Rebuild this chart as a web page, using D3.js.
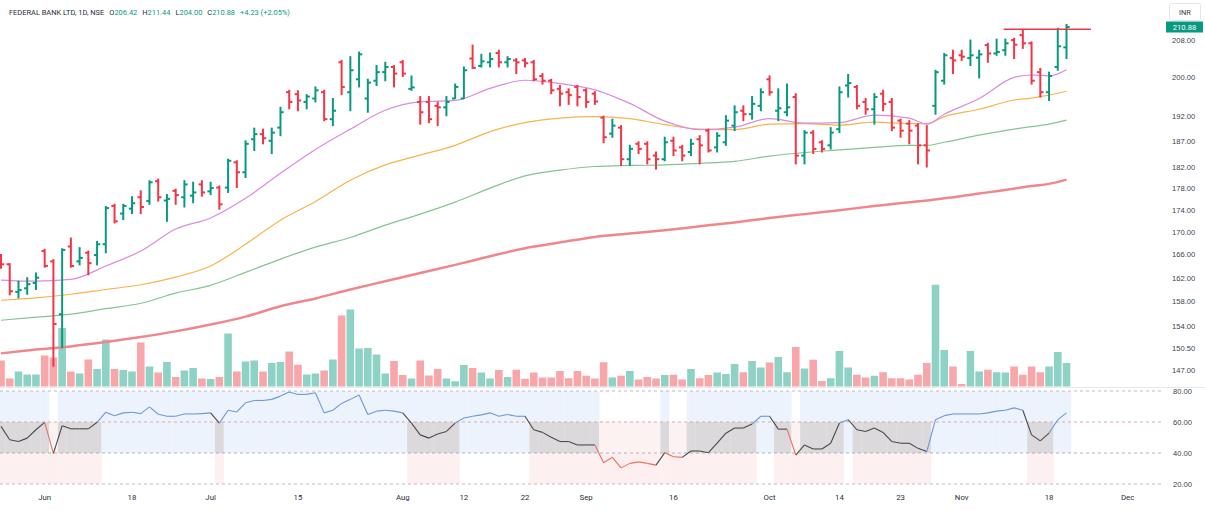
<!DOCTYPE html>
<html>
<head>
<meta charset="utf-8">
<script src="https://cdn.jsdelivr.net/npm/d3@7"></script>
<style>
  body{margin:0;background:#fff;overflow:hidden;}
  svg{display:block;font-family:Roboto, "Liberation Sans", sans-serif;}
</style>
</head>
<body>
<div class="chart"></div>
<script>
// daily bars, 27 May -> 21 Nov 2024 (trading days)
var opens = [165.5,164.3,159.6,160.2,161.1,166.6,164.8,155.9,167.4,164.8,
  166.3,165.9,167.8,174.7,173.3,174.2,176.3,175.6,179.3,175.7,
  177.5,176.3,176.6,178.7,177.4,178.1,178.1,182.9,181.0,187.4,
  188.4,187.1,189.7,196.9,196.5,194.9,195.6,196.9,191.4,203.2,
  196.9,199.6,195.6,199.3,201.1,202.2,203.2,197.6,194.9,194.9,
  194.1,193.8,195.6,195.6,204.0,202.4,203.2,205.2,203.2,203.6,
  203.6,203.2,200.3,199.3,197.6,196.9,198.0,197.3,196.6,191.7,
  188.5,189.7,183.5,186.5,186.5,184.2,183.5,187.1,185.8,184.9,
  187.4,189.1,185.8,186.8,190.1,193.1,192.4,194.1,199.6,193.1,
  192.8,195.9,184.2,188.7,186.8,186.2,189.4,198.3,198.0,194.9,
  193.4,196.6,194.9,191.1,190.5,190.1,186.2,194.1,199.3,204.1,
  204.7,204.1,204.2,206.9,205.1,205.8,208.0,209.1,207.3,201.1,
  196.9,202.2,206.42];
var highs = [166.0,164.4,161.4,162.0,162.8,166.9,165.1,167.0,168.9,167.2,
  166.6,168.3,174.6,175.0,175.0,176.4,177.5,179.4,179.7,176.8,
  177.8,179.4,179.1,179.4,179.1,178.4,183.5,183.2,187.1,189.6,
  189.4,189.6,193.8,197.3,197.2,196.4,198.0,197.3,195.6,203.6,
  204.4,205.4,199.6,202.5,203.2,202.5,203.6,200.3,196.0,196.0,
  194.9,196.0,198.6,202.2,206.9,204.9,205.2,205.8,204.4,204.0,
  204.0,203.6,200.8,199.6,198.3,197.6,198.3,197.6,197.0,192.0,
  191.4,190.1,186.2,186.9,186.9,184.9,187.8,187.8,186.2,187.4,
  188.1,189.4,188.7,192.1,194.1,194.1,196.0,197.6,200.3,197.6,
  198.6,196.6,189.1,189.1,187.1,189.7,198.0,200.6,198.3,195.6,
  196.6,197.3,195.6,191.4,191.1,190.5,190.1,201.5,205.1,205.8,
  205.8,208.0,205.8,207.3,208.2,208.2,208.4,210.2,207.6,201.9,
  201.1,210.6,211.44];
var lows = [163.6,159.1,158.6,159.2,160.0,163.8,147.6,150.5,163.8,164.2,
  162.5,164.2,166.3,171.6,172.2,173.3,173.3,175.0,175.6,171.9,
  175.0,174.5,175.3,176.5,176.8,174.1,177.2,178.1,180.0,185.2,
  186.5,184.6,188.1,193.5,193.1,193.5,194.9,191.1,190.1,196.4,
  193.1,198.0,192.8,198.3,199.3,198.0,200.2,197.3,190.4,190.7,
  190.1,192.1,195.6,195.6,201.9,202.2,202.2,202.2,202.2,200.8,
  202.2,199.3,198.6,196.6,194.1,194.4,194.1,193.8,194.4,186.7,
  187.8,182.3,182.3,184.6,182.6,181.6,183.2,184.2,183.2,184.2,
  182.6,184.9,184.9,186.2,189.1,191.1,191.4,193.1,196.3,191.1,
  192.1,182.6,182.6,184.6,184.9,185.5,188.7,195.9,193.5,192.4,
  190.4,193.1,189.1,187.8,186.5,182.6,182.0,192.4,198.6,200.8,
  203.6,202.5,199.9,203.2,204.7,204.7,204.0,206.2,198.6,195.9,
  195.2,201.5,204.00];
var closes = [164.3,159.7,159.9,160.9,162.0,164.0,154.3,166.8,164.0,165.4,
  164.5,167.8,174.3,171.9,174.7,175.2,174.5,179.1,176.3,176.0,
  176.7,178.7,177.2,177.2,178.0,175.0,183.2,181.0,186.5,188.4,
  187.6,188.7,192.8,194.9,195.2,196.0,197.3,191.4,193.1,198.0,
  201.5,204.9,198.9,201.1,202.2,200.8,200.8,197.9,192.8,191.4,
  193.8,194.9,198.0,201.5,202.0,203.4,203.9,203.2,203.9,203.2,
  203.0,199.6,199.3,197.3,196.6,196.3,195.9,194.9,195.0,187.8,
  190.1,183.5,185.5,185.5,183.5,183.5,186.8,185.2,184.2,186.5,
  186.2,185.2,188.1,191.1,192.8,192.4,194.5,196.9,196.9,193.6,
  193.8,184.2,188.7,185.5,185.5,188.7,196.9,198.8,194.1,193.4,
  195.9,194.5,189.7,189.1,189.1,186.2,185.2,201.1,204.7,203.6,
  204.4,204.7,204.9,205.1,205.4,207.3,207.0,207.3,199.3,196.9,
  200.3,206.65,210.88];
// volume, millions of shares
var volumes = [10.4,3.2,6.0,4.8,4.8,12.4,11.6,23.4,6.0,5.2,
  10.8,7.0,18.8,7.0,6.6,6.0,17.6,8.0,5.6,9.8,
  3.8,6.4,7.4,3.2,3.0,3.8,21.2,6.0,10.0,10.4,
  6.0,9.4,9.8,14.0,8.7,4.8,5.2,6.4,10.8,28.4,
  30.8,15.2,15.4,12.8,5.2,10.2,4.6,3.2,10.4,4.4,
  7.0,3.2,2.1,8.6,7.4,5.6,3.2,6.6,3.8,6.7,
  3.1,5.6,3.6,3.6,6.2,3.3,6.2,4.3,3.2,9.7,
  3.6,4.3,6.2,2.8,3.8,3.2,4.6,4.7,2.8,7.0,
  3.3,4.6,5.6,5.0,9.0,5.7,10.2,7.6,9.6,11.8,
  5.7,15.8,7.2,10.7,2.2,3.3,14.2,7.6,4.7,3.6,
  4.3,5.7,3.3,3.3,2.8,4.7,9.4,40.7,14.6,8.0,
  1.0,14.2,6.0,6.7,5.7,5.6,8.0,4.7,8.0,5.7,
  8.0,13.8,9.4];
var rsi = [57.2,48.5,47.4,49.6,55,59.8,39.8,57.6,55.6,55.6,
  55.6,59.8,66.3,64,65.9,66.3,65.4,69.8,65,63.7,
  63.7,65.2,65.2,65.4,65.9,59.3,67.6,66.5,72.4,73.9,
  73.9,74.6,76.7,79.3,77.8,77.8,78.9,65.9,67.6,72,
  74.6,77.4,64.8,67,67.6,67,65.9,59.3,51.7,49.6,
  52.2,53.9,59.3,62.6,63.7,64.6,65.9,63.7,64.8,63.7,
  63.7,55,53.3,50.2,47.4,47.4,45.2,45.2,45.2,33.7,
  37.2,30.4,33.3,34.3,33.3,32.2,40.2,37.6,37.2,41.3,
  41.3,40.2,46.3,52.8,56.1,56.1,58.7,63.7,63.7,55.4,
  55.4,38.7,45.2,42.6,42.6,46.3,59.3,61.5,55,53.9,
  56.1,53.3,47.4,46.3,46.3,43,40.9,61.5,64.1,65.2,
  65.2,65.2,65.2,65.9,67,67.6,69.1,67.6,51.7,47.8,
  52.8,61.5,65.9];

// moving averages read at these bars
var maIdx = [0,4,8,12,16,20,24,28,32,36,40,44,48,52,56,60,64,68,72,76,80,84,88,92,96,100,104,106,108,112,116,118,120,122];
var maViolet = [161.6,161.4,161.7,164.0,166.6,170.5,172.5,176.1,180.8,185.4,189.4,193.2,194.9,195.2,197.7,199.4,198.7,197.4,194.6,191.0,189.3,189.8,191.5,190.6,190.7,192.2,191.6,190.4,192.4,195.6,200.0,200.5,200.3,201.6];
var maOrange = [158.2,158.6,159.2,160.0,160.8,162.1,164.0,167.8,172.1,175.5,179.5,182.4,184.3,186.2,188.9,190.7,191.6,191.9,191.5,190.3,189.4,189.3,190.4,190.5,190.2,190.8,190.5,190.5,191.9,193.4,195.3,195.7,196.3,197.1];
var maGreen = [154.9,155.4,155.9,156.8,157.7,159.4,160.7,162.9,165.2,167.3,169.0,171.2,173.2,175.4,178.0,180.3,181.4,182.1,182.3,182.4,182.7,183.1,184.1,184.8,185.3,185.8,186.2,186.2,186.8,188.2,189.4,189.9,190.4,191.2];
var maRed = [149.6,150.2,150.7,151.4,152.2,153.1,154.2,155.5,157.2,158.5,160.0,161.4,162.8,164.2,165.7,167.1,168.1,169.1,169.7,170.3,171.0,171.7,172.5,173.2,173.9,174.7,175.4,175.7,176.1,177.0,177.9,178.4,178.8,179.6];

var priceTicks = [208,200,192,187,182,178,174,170,166,162,158,154,150.5,147];
var rsiTicks = [80,60,40,20];
var timeLabels = ["Jun","18","Jul","15","Aug","12","22","Sep","16","Oct","14","23","Nov","18","Dec"];
var timeBars = [5,15,24,34,46,53,60,67,77,88,96,103,110,120,129];

var resistance = 210.36;
var resistanceBars = [114.8, 124.8];

var title = "FEDERAL BANK LTD, 1D, NSE";

function init(){
  var w = 1205;
  var h = 511;
  var plotRight = 1162;
  var n = closes.length;

  var green = "#089981", red = "#f23645";

  var x = d3.scaleLinear()
            .domain([0, n - 1])
            .range([1, 1066.5]);

  var y = d3.scaleLog()
            .domain([144.4, 216.96])
            .range([387, 0]);

  var vy = d3.scaleLinear()
             .domain([0, 42])
             .range([386.5, 281.5]);

  var ry = d3.scaleLinear()
             .domain([20, 80])
             .range([484, 391]);

  var svg = d3.select(".chart")
              .append("svg")
              .attr("width", w)
              .attr("height", h);

  var defs = svg.append("defs");
  defs.append("clipPath").attr("id", "mainClip")
      .append("rect").attr("x", 0).attr("y", 0).attr("width", plotRight).attr("height", 387);
  defs.append("clipPath").attr("id", "rsiClip")
      .append("rect").attr("x", 0).attr("y", 388).attr("width", plotRight).attr("height", 102);

  var main = svg.append("g").attr("clip-path", "url(#mainClip)");

  // volume overlay
  main.append("g")
      .selectAll("rect")
      .data(volumes)
      .join("rect")
        .attr("x", function(d, i){ return x(i) - 3.8; })
        .attr("y", function(d){ return vy(d); })
        .attr("width", 7.6)
        .attr("height", function(d){ return vy(0) - vy(d); })
        .attr("fill", function(d, i){
          return closes[i] >= opens[i] ? "#8ed2c6" : "#f7a6aa";
        });

  // moving averages
  var maLine = d3.line()
                 .x(function(d){ return x(d[0]); })
                 .y(function(d){ return y(d[1]); })
                 .curve(d3.curveMonotoneX);

  var mas = [
    {vals: maRed, color: "#f0868c", width: 2.5},
    {vals: maGreen, color: "#86c48f", width: 1.2},
    {vals: maOrange, color: "#f6b54c", width: 1.2},
    {vals: maViolet, color: "#dc8ae2", width: 1.2}
  ];
  mas.forEach(function(m){
    main.append("path")
        .datum(maIdx.map(function(k, j){ return [k, m.vals[j]]; }))
        .attr("fill", "none")
        .attr("stroke", m.color)
        .attr("stroke-width", m.width)
        .attr("d", maLine);
  });

  // OHLC bars
  var bars = main.append("g")
                 .selectAll("g")
                 .data(d3.range(n))
                 .join("g")
                   .attr("stroke", function(i){ return closes[i] >= opens[i] ? green : red; })
                   .attr("stroke-width", 2);
  bars.append("line")
      .attr("x1", function(i){ return x(i); })
      .attr("x2", function(i){ return x(i); })
      .attr("y1", function(i){ return y(highs[i]) - 0.5; })
      .attr("y2", function(i){ return y(lows[i]) + 0.5; });
  bars.append("line")
      .attr("x1", function(i){ return x(i) - 3.2; })
      .attr("x2", function(i){ return x(i); })
      .attr("y1", function(i){ return y(opens[i]); })
      .attr("y2", function(i){ return y(opens[i]); });
  bars.append("line")
      .attr("x1", function(i){ return x(i); })
      .attr("x2", function(i){ return x(i) + 3.2; })
      .attr("y1", function(i){ return y(closes[i]); })
      .attr("y2", function(i){ return y(closes[i]); });

  // drawn resistance line
  main.append("line")
      .attr("x1", x(resistanceBars[0]))
      .attr("x2", x(resistanceBars[1]))
      .attr("y1", y(resistance))
      .attr("y2", y(resistance))
      .attr("stroke", red)
      .attr("stroke-width", 1.5);

  // pane separator
  svg.append("line")
     .attr("x1", 0).attr("x2", w)
     .attr("y1", 387.5).attr("y2", 387.5)
     .attr("stroke", "#e8e9ee");

  // RSI pane backgrounds
  var rsiG = svg.append("g").attr("clip-path", "url(#rsiClip)");
  var bands = [];
  rsi.forEach(function(v, i){
    var x0 = x(i) - 4.37, x1 = x(i) + 4.37;
    if(v > 60){
      bands.push({x0: x0, x1: x1, lo: 40, hi: 80, fill: "#edf3fc"});
    }else if(v < 40){
      bands.push({x0: x0, x1: x1, lo: 40, hi: 60, fill: "#fdf2f2"});
      bands.push({x0: x0, x1: x1, lo: 20, hi: 40, fill: "#fdefef"});
    }else{
      bands.push({x0: x0, x1: x1, lo: 60, hi: 80, fill: "#edf3fc"});
      bands.push({x0: x0, x1: x1, lo: 40, hi: 60, fill: "#dcd9dd"});
      bands.push({x0: x0, x1: x1, lo: 20, hi: 40, fill: "#fdf0f0"});
    }
  });
  rsiG.append("g")
      .selectAll("rect")
      .data(bands)
      .join("rect")
        .attr("x", function(d){ return d.x0; })
        .attr("y", function(d){ return ry(d.hi); })
        .attr("width", function(d){ return d.x1 - d.x0 + 0.3; })
        .attr("height", function(d){ return ry(d.lo) - ry(d.hi); })
        .attr("fill", function(d){ return d.fill; });

  var levelColor = {80: "#b9bcc4", 60: "#dba7ae", 40: "#a9b4c6", 20: "#b9bcc4"};
  rsiG.append("g")
      .selectAll("line")
      .data(rsiTicks)
      .join("line")
        .attr("x1", 0).attr("x2", plotRight)
        .attr("y1", function(d){ return ry(d); })
        .attr("y2", function(d){ return ry(d); })
        .attr("stroke", function(d){ return levelColor[d]; })
        .attr("stroke-dasharray", "3,3");

  rsiG.append("g")
      .selectAll("line")
      .data(d3.range(1, n))
      .join("line")
        .attr("x1", function(i){ return x(i - 1); })
        .attr("x2", function(i){ return x(i); })
        .attr("y1", function(i){ return ry(rsi[i - 1]); })
        .attr("y2", function(i){ return ry(rsi[i]); })
        .attr("stroke-width", 1.1)
        .attr("stroke", function(i){
          var v = rsi[i];
          if(v > 60) return "#6e98d6";
          if(v < 40) return "#e8735f";
          return "#4a4a4a";
        });

  // right price axis
  var yAxis = d3.axisRight(y)
                .tickValues(priceTicks)
                .tickSize(0)
                .tickFormat(d3.format(".2f"));
  svg.append("g")
     .attr("transform", "translate(1172,0)")
     .call(yAxis)
     .call(function(g){ g.select(".domain").remove(); })
     .selectAll("text")
       .attr("x", 0)
       .style("font-size", "7.6px")
       .style("fill", "#3b3f4a");

  var rAxis = d3.axisRight(ry)
                .tickValues(rsiTicks)
                .tickSize(0)
                .tickFormat(d3.format(".2f"));
  svg.append("g")
     .attr("transform", "translate(1173,0)")
     .call(rAxis)
     .call(function(g){ g.select(".domain").remove(); })
     .selectAll("text")
       .attr("x", 0)
       .style("font-size", "7.6px")
       .style("fill", "#3b3f4a");

  // last price label
  var lastY = y(closes[n - 1]);
  svg.append("rect")
     .attr("x", 1166).attr("y", lastY - 5.5)
     .attr("width", 37).attr("height", 11)
     .attr("fill", green);
  svg.append("text")
     .attr("x", 1184.5).attr("y", lastY + 2.7)
     .attr("text-anchor", "middle")
     .style("font-size", "7.6px")
     .style("fill", "#fff")
     .text(closes[n - 1].toFixed(2));

  // currency box
  svg.append("rect")
     .attr("x", 1169.5).attr("y", 3.5)
     .attr("width", 31).attr("height", 17)
     .attr("rx", 2)
     .attr("fill", "#fff")
     .attr("stroke", "#e3e5ea");
  svg.append("text")
     .attr("x", 1185).attr("y", 15)
     .attr("text-anchor", "middle")
     .style("font-size", "7.4px")
     .style("fill", "#3b3f4a")
     .text("INR");

  // time axis
  svg.append("g")
     .selectAll("text")
     .data(timeLabels)
     .join("text")
       .attr("x", function(d, i){ return x(timeBars[i]); })
       .attr("y", 500)
       .attr("text-anchor", "middle")
       .style("font-size", "7.8px")
       .style("fill", "#2a2e39")
       .text(function(d){ return d; });

  // header legend
  var last = n - 1;
  var chg = closes[last] - closes[last - 1];
  var pct = chg / closes[last - 1] * 100;
  var head = svg.append("text")
                .attr("x", 9)
                .attr("y", 15)
                .style("font-size", "7.45px")
                .style("fill", "#2a2e39");
  head.append("tspan").text(title);
  [["O", opens[last]], ["H", highs[last]], ["L", lows[last]], ["C", closes[last]]].forEach(function(p){
    head.append("tspan").attr("dx", 5).text(p[0]);
    head.append("tspan").style("fill", green).text(p[1].toFixed(2));
  });
  head.append("tspan").attr("dx", 5).style("fill", green)
      .text((chg >= 0 ? "+" : "") + chg.toFixed(2) + " (" + (pct >= 0 ? "+" : "") + pct.toFixed(2) + "%)");
}

window.onload = init;
</script>
</body>
</html>
